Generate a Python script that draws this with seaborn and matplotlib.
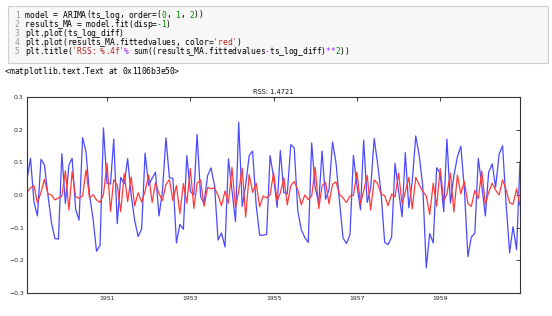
import numpy as np
import pandas as pd
import matplotlib
matplotlib.use("Agg")
import matplotlib.pyplot as plt
from matplotlib.patches import Rectangle
import seaborn as sns

# ---------------- data ----------------
start_month = "1949-02"

ts_log_diff = [
    0.0522, 0.1121, -0.0230, -0.0640, 0.1095, 0.0919, 0.0, -0.0846, -0.1335, -0.1347, 0.1263,
    -0.0258, 0.0914, 0.1125, -0.0435, -0.0770, 0.1756, 0.1319, 0.0, -0.0732, -0.1722, -0.1542, 0.2054,
    0.0351, 0.0339, 0.1712, -0.0880, 0.0538, 0.0343, 0.1115, 0.0, -0.0784, -0.1273, -0.1040, 0.1284,
    0.0297, 0.0513, 0.0697, -0.0642, 0.0110, 0.1750, 0.0536, 0.0509, -0.1466, -0.0901, -0.1048, 0.1204,
    0.0103, 0.0, 0.1857, -0.0043, -0.0259, 0.0593, 0.0829, 0.0299, -0.1378, -0.1162, -0.1589, 0.1104,
    0.0148, -0.0817, 0.2231, -0.0346, 0.0304, 0.1206, 0.1345, -0.0303, -0.1233, -0.1231, -0.1205, 0.1205,
    0.0552, -0.0379, 0.1362, 0.0075, 0.0037, 0.1542, 0.1446, -0.0478, -0.1063, -0.1299, -0.1451, 0.1596,
    0.0214, -0.0250, 0.1349, -0.0127, 0.0159, 0.1622, 0.0992, -0.0196, -0.1318, -0.1485, -0.1215, 0.1215,
    0.0290, -0.0455, 0.1678, -0.0227, 0.0199, 0.1729, 0.0970, 0.0043, -0.1449, -0.1521, -0.1290, 0.0968,
    0.0118, -0.0669, 0.1296, -0.0394, 0.0422, 0.1809, 0.1211, 0.0281, -0.2231, -0.1181, -0.1468, 0.0835,
    0.0660, -0.0513, 0.1715, -0.0249, 0.0588, 0.1167, 0.1493, 0.0199, -0.1884, -0.1289, -0.1172, 0.1122,
    0.0292, -0.0644, 0.0692, 0.0955, 0.0236, 0.1253, 0.1507, -0.0261, -0.1764, -0.0971, -0.1673, 0.1023,
]

fitted_ma = [
    0.010, 0.022, 0.028, -0.024, 0.008, 0.048, 0.003, 0.000, -0.015, -0.009, -0.004,
    0.074, -0.046, 0.071, -0.005, -0.010, -0.003, 0.077, -0.009, 0.001, -0.015, -0.023, 0.002,
    0.097, -0.050, 0.047, 0.030, -0.051, 0.065, -0.020, 0.055, -0.033, 0.007, -0.022, 0.012,
    0.061, -0.023, 0.038, 0.004, -0.017, 0.032, 0.047, -0.017, 0.029, -0.057, 0.035, -0.025,
    0.081, -0.041, 0.036, 0.046, -0.035, 0.023, 0.019, 0.022, -0.001, -0.033, 0.012, -0.025,
    0.085, -0.038, 0.011, 0.082, -0.068, 0.063, 0.008, 0.036, -0.036, -0.003, -0.009, 0.000,
    0.068, -0.018, 0.006, 0.053, -0.030, 0.029, 0.041, 0.016, -0.030, -0.000, -0.014, -0.004,
    0.085, -0.042, 0.028, 0.039, -0.027, 0.033, 0.040, 0.002, -0.009, -0.023, -0.003, -0.001,
    0.070, -0.027, 0.012, 0.060, -0.046, 0.046, 0.035, 0.003, -0.002, -0.033, 0.003, -0.006,
    0.067, -0.027, 0.009, 0.054, -0.042, 0.054, 0.031, 0.011, -0.003, -0.060, 0.036, -0.034,
    0.081, -0.018, 0.003, 0.067, -0.052, 0.061, 0.004, 0.042, -0.026, -0.035, 0.014, -0.011,
    0.073, -0.028, 0.008, 0.036, 0.015, 0.000, 0.046, 0.016, -0.024, -0.028, 0.019, -0.032,
]

y_ticks = [-0.3, -0.2, -0.1, 0.0, 0.1, 0.2, 0.3]
x_tick_years = [1951, 1953, 1955, 1957, 1959]
title_text = "RSS: 1.4721"
output_text = "<matplotlib.text.Text at 0x1106b3e50>"

C_TXT, C_NUM, C_STR, C_OP = "#000000", "#008800", "#BA2121", "#AA22FF"
code_lines = [
    [("model = ARIMA(ts_log, order=(", C_TXT), ("0", C_NUM), (", ", C_TXT), ("1", C_NUM),
     (", ", C_TXT), ("2", C_NUM), ("))", C_TXT)],
    [("results_MA = model.fit(disp=", C_TXT), ("-1", C_NUM), (")", C_TXT)],
    [("plt.plot(ts_log_diff)", C_TXT)],
    [("plt.plot(results_MA.fittedvalues, color=", C_TXT), ("'red'", C_STR), (")", C_TXT)],
    [("plt.title(", C_TXT), ("'RSS: %.4f'", C_STR), ("%", C_OP), (" sum((results_MA.fittedvalues", C_TXT),
     ("-", C_OP), ("ts_log_diff)", C_TXT), ("**", C_OP), ("2", C_NUM), ("))", C_TXT)],
]

# ---------------- figure ----------------
sns.set_theme(style="white")
plt.rcParams["font.family"] = ["DejaVu Sans"]

W, H, DPI = 552, 316, 100
fig = plt.figure(figsize=(W / DPI, H / DPI), dpi=DPI)
fig.patch.set_facecolor("white")

def fx(px):
    return px / W

def fy(py):
    return 1 - py / H

# code cell box
fig.add_artist(Rectangle((fx(8), fy(63)), fx(548) - fx(8), (63 - 6) / H,
                         transform=fig.transFigure, facecolor="#f7f7f7",
                         edgecolor="#cfcfcf", lw=0.8))

mono_size = 5.8
cw = 4.70
code_x0 = 25.0
line_y = [15.0, 24.3, 33.3, 42.4, 51.6]

def mono_text(x0, yy, s, col):
    # place each character on a fixed monospace grid
    for j, ch in enumerate(s):
        if ch == " ":
            continue
        fig.text(fx(x0 + j * cw + cw / 2), fy(yy), ch, ha="center", va="center",
                 family="DejaVu Sans Mono", size=mono_size, color=col)

for n, (tokens, yy) in enumerate(zip(code_lines, line_y), start=1):
    fig.text(fx(19.5), fy(yy), str(n), ha="right", va="center",
             family="DejaVu Sans Mono", size=mono_size, color="#999999")
    k = 0
    for txt, col in tokens:
        mono_text(code_x0 + k * cw, yy, txt, col)
        k += len(txt)

mono_text(5.0, 72.0, output_text, "#000000")

# ---------------- axes ----------------
ax_l, ax_r, ax_t, ax_b = 27.3, 520.0, 97.0, 293.0
ax = fig.add_axes([fx(ax_l), fy(ax_b), (ax_r - ax_l) / W, (ax_b - ax_t) / H])
ax.set_facecolor("white")

dates = pd.date_range(start_month, periods=len(ts_log_diff), freq="MS")
df = pd.DataFrame({"date": dates, "ts_log_diff": ts_log_diff, "fitted": fitted_ma})

sns.lineplot(data=df, x="date", y="ts_log_diff", ax=ax, color="#4a4aff", lw=0.9)
sns.lineplot(data=df, x="date", y="fitted", ax=ax, color="#ff3a3a", lw=0.9)

ax.set_xlim(dates[0], dates[-1])
ax.set_ylim(-0.3, 0.3)
ax.set_yticks(y_ticks)
ax.set_yticklabels([("\u2212%.1f" % abs(v)) if v < 0 else "%.1f" % v for v in y_ticks])
xt = pd.to_datetime(["%d-01-01" % y for y in x_tick_years])
ax.set_xticks(xt)
ax.set_xticklabels([str(y) for y in x_tick_years])
ax.set_xlabel("")
ax.set_ylabel("")
ax.minorticks_off()

ax.tick_params(axis="both", which="major", direction="in", length=3.0, width=0.6,
               top=True, right=True, labelsize=4.4, colors="#222222", pad=2.5)
for sp in ax.spines.values():
    sp.set_visible(True)
    sp.set_color("#333333")
    sp.set_linewidth(0.8)

ax.set_title(title_text, fontsize=4.8, pad=2.5, color="#111111")

fig.savefig("out.png", dpi=DPI, facecolor="white")
